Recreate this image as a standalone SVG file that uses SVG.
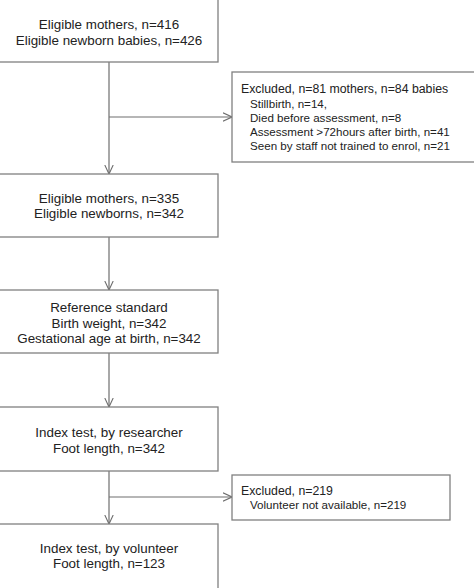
<svg xmlns="http://www.w3.org/2000/svg" width="474" height="588" viewBox="0 0 474 588">
<style>
.box{fill:#fff;stroke:#808080;stroke-width:1.3}
.t{font-family:"Liberation Sans",Arial,sans-serif;font-size:13.4px;fill:#222}
.c{text-anchor:middle}
.h{font-size:12.3px}
.s{font-size:11.6px}
.ln{stroke:#6e6e6e;stroke-width:1.2;fill:none}
</style>
<defs>
<marker id="ah" viewBox="0 0 10 10" refX="9.5" refY="5" markerWidth="10" markerHeight="10" markerUnits="userSpaceOnUse" orient="auto">
<path d="M0.5,0.8 L9.5,5 L0.5,9.2" fill="none" stroke="#6e6e6e" stroke-width="1.1"/>
</marker>
</defs>
<rect width="474" height="588" fill="#fff"/>
<g id="connectors">
<line class="ln" x1="109" y1="62" x2="109" y2="174" marker-end="url(#ah)"/>
<line class="ln" x1="109" y1="117" x2="232" y2="117" marker-end="url(#ah)"/>
<line class="ln" x1="109" y1="237" x2="109" y2="290" marker-end="url(#ah)"/>
<line class="ln" x1="109" y1="353" x2="109" y2="407" marker-end="url(#ah)"/>
<line class="ln" x1="109" y1="471" x2="109" y2="524" marker-end="url(#ah)"/>
<line class="ln" x1="109" y1="497" x2="232" y2="497" marker-end="url(#ah)"/>
</g>
<g id="n1">
<rect class="box" x="-2" y="-2" width="220" height="64"/>
<text class="t c" x="109" y="29">Eligible mothers, n=416</text>
<text class="t c" x="109" y="45">Eligible newborn babies, n=426</text>
</g>
<g id="n2">
<rect class="box" x="232" y="72" width="246" height="90"/>
<text class="t h" x="241" y="93">Excluded, n=81 mothers, n=84 babies</text>
<text class="t s" x="250" y="107.5">Stillbirth, n=14,</text>
<text class="t s" x="250" y="121.7">Died before assessment, n=8</text>
<text class="t s" x="250" y="136">Assessment &gt;72hours after birth, n=41</text>
<text class="t s" x="250" y="150">Seen by staff not trained to enrol, n=21</text>
</g>
<g id="n3">
<rect class="box" x="-2" y="174" width="220" height="63"/>
<text class="t c" x="109" y="203">Eligible mothers, n=335</text>
<text class="t c" x="109" y="218">Eligible newborns, n=342</text>
</g>
<g id="n4">
<rect class="box" x="-2" y="290" width="220" height="63"/>
<text class="t c" x="109" y="312">Reference standard</text>
<text class="t c" x="109" y="327.5">Birth weight, n=342</text>
<text class="t c" x="109" y="343">Gestational age at birth, n=342</text>
</g>
<g id="n5">
<rect class="box" x="-2" y="407" width="220" height="64"/>
<text class="t c" x="109" y="437">Index test, by researcher</text>
<text class="t c" x="109" y="453">Foot length, n=342</text>
</g>
<g id="n6">
<rect class="box" x="232" y="475" width="218" height="45"/>
<text class="t h" x="241" y="495">Excluded, n=219</text>
<text class="t s" x="250" y="509">Volunteer not available, n=219</text>
</g>
<g id="n7">
<rect class="box" x="-2" y="524" width="220" height="70"/>
<text class="t c" x="109" y="553">Index test, by volunteer</text>
<text class="t c" x="109" y="568">Foot length, n=123</text>
</g>
</svg>
